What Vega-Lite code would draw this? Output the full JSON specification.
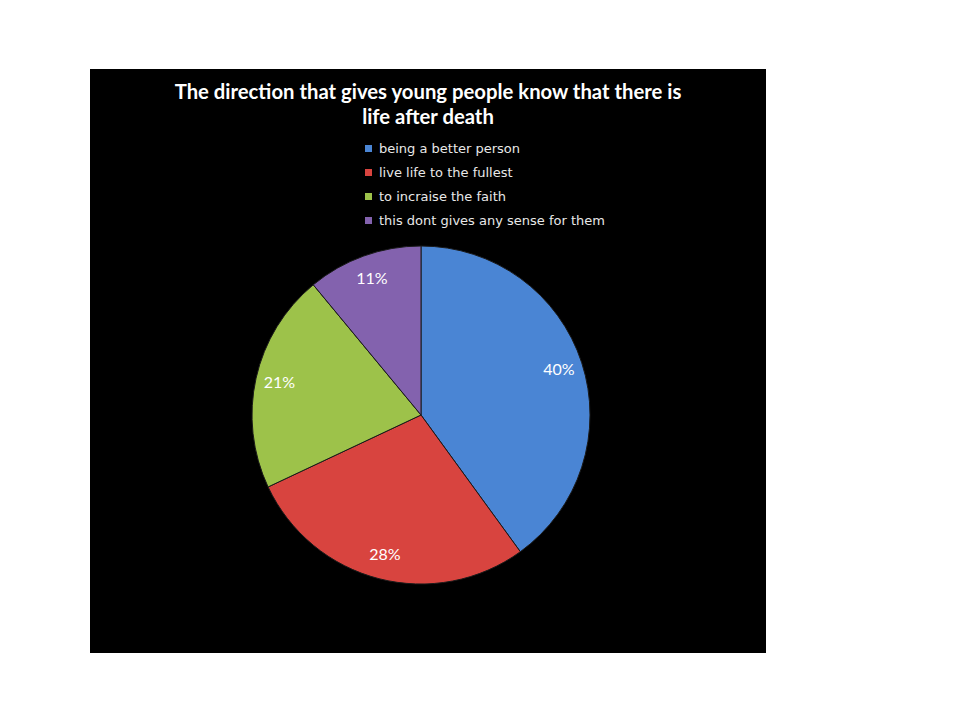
{
  "$schema": "https://vega.github.io/schema/vega-lite/v6.json",
  "autosize": {"type": "none"},
  "width": 676,
  "height": 584,
  "padding": {"left": 90, "top": 69, "right": 194, "bottom": 67},
  "background": "white",
  "view": {"fill": "black", "stroke": null},
  "title": {
    "text": ["The direction that gives young people know that there is", "life after death"],
    "font": "Lato",
    "fontSize": 20.3,
    "fontWeight": "bold",
    "color": "white",
    "anchor": "middle",
    "frame": "group",
    "baseline": "top",
    "offset": -59,
    "lineHeight": 25
  },
  "data": {
    "values": [
      {"answer": "being a better person", "share": 0.40},
      {"answer": "live life to the fullest", "share": 0.28},
      {"answer": "to incraise  the faith", "share": 0.21},
      {"answer": "this dont gives any sense for them", "share": 0.11}
    ]
  },
  "encoding": {
    "theta": {"field": "share", "type": "quantitative", "stack": true},
    "order": {"field": "share", "sort": "descending"},
    "color": {
      "field": "answer",
      "type": "nominal",
      "sort": null,
      "scale": {
        "domain": ["being a better person", "live life to the fullest", "to incraise  the faith", "this dont gives any sense for them"],
        "range": ["#4A85D4", "#D8443F", "#9DC24A", "#8362AE"]
      },
      "legend": {
        "orient": "none",
        "legendX": 272,
        "legendY": 73,
        "title": null,
        "symbolType": "square",
        "symbolSize": 49,
        "symbolStrokeWidth": 0,
        "labelFont": "DejaVu Sans",
        "labelFontSize": 13,
        "labelColor": "#e8e8e8",
        "labelLimit": 400,
        "labelOffset": 4,
        "rowPadding": 10
      }
    }
  },
  "layer": [
    {
      "mark": {"type": "arc", "outerRadius": 169, "xOffset": -7, "yOffset": 54, "stroke": "#1a1a1a", "strokeWidth": 1}
    },
    {
      "mark": {"type": "text", "radius": 145, "xOffset": -7, "yOffset": 54, "font": "Lato", "fontSize": 16},
      "encoding": {
        "text": {"field": "share", "type": "quantitative", "format": ".0%"},
        "color": {"value": "white"}
      }
    }
  ]
}
